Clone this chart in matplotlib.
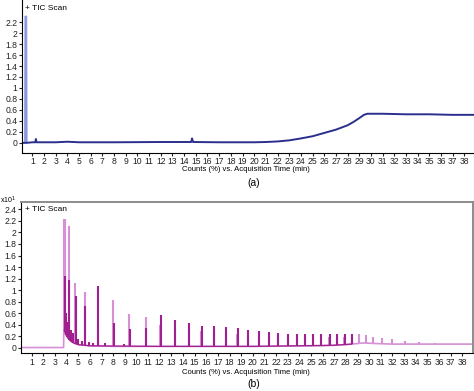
import matplotlib
matplotlib.use("Agg")
import matplotlib.pyplot as plt
import numpy as np

plt.rcParams['font.family'] = ['Liberation Sans', 'DejaVu Sans']

# ---- data: panel (a), blank run ----
spike_a_t = [0.33, 0.36, 0.52, 0.55]
spike_a_y = [0.0, 2.31, 2.31, 0.0]

trace_a_t = [0.12, 0.5, 1.0, 1.25, 1.3, 1.35, 2.0, 3.0, 3.5, 4.0, 4.5, 5.0, 8.0, 12.0,
             14.6, 14.68, 14.76, 17.0, 20.0, 21.0, 22.0, 23.0, 24.0, 25.0, 26.0,
             27.0, 28.0, 28.5, 29.0, 29.4, 29.7, 31.0, 33.0, 35.0, 37.0, 39.0]
trace_a_y = [0.0, 0.0, 0.01, 0.01, 0.07, 0.01, 0.01, 0.01, 0.015, 0.02, 0.015, 0.01, 0.01, 0.015,
             0.015, 0.08, 0.015, 0.01, 0.01, 0.015, 0.025, 0.045, 0.08, 0.12, 0.18,
             0.24, 0.32, 0.38, 0.45, 0.51, 0.53, 0.53, 0.52, 0.52, 0.51, 0.51]

# ---- data: panel (b), sample run ----
base_b_t = [0.08, 3.74, 3.76, 4.0, 4.3, 4.6, 5.0, 6.0, 8.0, 12.0, 20.0, 26.0, 27.0,
            28.0, 29.0, 29.5, 30.5, 32.0, 34.0, 36.0, 38.9]
base_b_y = [0.0, 0.0, 0.3, 0.2, 0.12, 0.08, 0.05, 0.03, 0.02, 0.02, 0.02, 0.03, 0.04,
            0.05, 0.07, 0.08, 0.07, 0.06, 0.06, 0.06, 0.06]

dark_base_t = [3.8, 4.0, 4.3, 4.6, 5.0, 6.0, 12.0, 20.0, 27.0, 28.5]
dark_base_y = [0.3, 0.2, 0.12, 0.08, 0.05, 0.03, 0.02, 0.02, 0.04, 0.06]

light_peak_t = [3.78, 3.84, 3.9, 4.22, 4.75, 5.55, 6.68, 8.0, 9.4, 10.78, 12.05, 13.28,
                14.48, 15.58, 16.68, 17.68, 18.65, 19.6, 20.5, 21.38, 22.2, 23.0,
                23.78, 24.5, 25.2, 25.9, 26.55, 27.2, 27.85, 28.5, 29.1, 29.7, 30.3,
                31.1, 32.0, 33.1, 34.3, 35.7, 37.5]
light_peak_h = [2.24, 2.24, 2.24, 2.11, 1.13, 0.97, 0.4, 0.83, 0.58, 0.53, 0.4, 0.35,
                0.3, 0.28, 0.27, 0.25, 0.24, 0.22, 0.2, 0.2, 0.19, 0.18,
                0.18, 0.17, 0.17, 0.18, 0.18, 0.18, 0.19, 0.2, 0.24, 0.22, 0.19,
                0.16, 0.14, 0.12, 0.10, 0.08, 0.07]

dark_peak_t = [3.82, 3.95, 4.05, 4.24, 4.4, 4.55, 4.79, 5.0, 5.3, 5.56, 5.9, 6.3, 6.73,
               7.3, 8.03, 8.9, 9.42, 10.82, 12.08, 13.3, 14.5, 15.6, 16.7, 17.7, 18.7,
               19.6, 20.5, 21.4, 22.2, 23.0, 23.8, 24.5, 25.2, 25.9, 26.6, 27.2, 27.9, 28.5]
dark_peak_h = [1.24, 0.6, 0.45, 1.18, 0.3, 0.25, 0.9, 0.15, 0.12, 0.73, 0.1, 0.08, 1.07,
               0.08, 0.42, 0.06, 0.33, 0.34, 0.56, 0.48, 0.42, 0.38, 0.38, 0.35, 0.34,
               0.30, 0.28, 0.27, 0.26, 0.24, 0.24, 0.23, 0.23, 0.24, 0.24, 0.24, 0.24, 0.24]

x_ticks = list(range(1, 39))
y_ticks_a = [0, 0.2, 0.4, 0.6, 0.8, 1, 1.2, 1.4, 1.6, 1.8, 2, 2.2]
y_ticks_b = [0, 0.2, 0.4, 0.6, 0.8, 1, 1.2, 1.4, 1.6, 1.8, 2, 2.2, 2.4]

xlabel = "Counts (%) vs. Acquisition Time (min)"

LIGHT_BLUE = '#8a98e2'
NAVY = '#2a2f8e'
PINK = '#d690d6'
PURPLE = '#a0208f'

W, H = 474, 391
fig = plt.figure(figsize=(W / 100, H / 100), dpi=100)


def px_axes(left, top, right, bottom):
    return fig.add_axes([left / W, 1 - bottom / H, (right - left) / W, (bottom - top) / H])


def style_axes(ax, yticks):
    ax.set_xticks(x_ticks)
    ax.set_xticklabels([str(t) for t in x_ticks])
    ax.set_yticks(yticks)
    ax.set_yticklabels([('%g' % v) for v in yticks])
    ax.tick_params(direction='out', length=2.5, width=0.8, pad=0.8, labelsize=6.2,
                   colors='#222222')
    ax.spines['left'].set_color('black')
    ax.spines['bottom'].set_color('black')


# panel (a)
ax1 = px_axes(22, -2, 476, 152.7)
ax1.fill(spike_a_t, spike_a_y, color=LIGHT_BLUE, lw=0.6)
ax1.plot(trace_a_t, trace_a_y, color=NAVY, lw=1.4)
ax1.set_xlim(0.11, 39.0)
ax1.set_ylim(-0.18, 2.64)
style_axes(ax1, y_ticks_a)
ax1.spines['top'].set_visible(False)
ax1.spines['right'].set_visible(False)
ax1.text(0.006, 0.93, "+ TIC Scan", transform=ax1.transAxes, fontsize=6.0,
         va='center', ha='left')

# panel (b)
ax2 = px_axes(21, 202, 472.7, 353.3)
light_base = np.interp(light_peak_t, base_b_t, base_b_y)
dark_base = np.interp(dark_peak_t, dark_base_t, dark_base_y)
ax2.plot(base_b_t, base_b_y, color=PINK, lw=1.2)
ax2.vlines(light_peak_t, light_base, light_peak_h, color=PINK, lw=1.5)
ax2.plot(dark_base_t, dark_base_y, color=PURPLE, lw=0.9)
ax2.vlines(dark_peak_t, dark_base, dark_peak_h, color=PURPLE, lw=1.5)
ax2.set_xlim(0.08, 38.9)
ax2.set_ylim(-0.10, 2.53)
style_axes(ax2, y_ticks_b)
for s in ['top', 'right']:
    ax2.spines[s].set_color('#8c8c8c')
    ax2.spines[s].set_linewidth(1.4)
ax2.text(0.008, 0.952, "+ TIC Scan", transform=ax2.transAxes, fontsize=6.0,
         va='center', ha='left')
fig.text(0.001, 1 - 200 / H, "x10$^{1}$", fontsize=5.0, va='center', ha='left')

# axis titles and captions
fig.text(0.519, 1 - 169.3 / H, xlabel, fontsize=5.5, ha='center', va='center')
fig.text(0.536, 1 - 183.3 / H, "(a)", fontsize=7.4, ha='center', va='center')
fig.text(0.519, 1 - 372.3 / H, xlabel, fontsize=5.5, ha='center', va='center')
fig.text(0.536, 1 - 383.7 / H, "(b)", fontsize=7.4, ha='center', va='center')

fig.savefig("out.png", dpi=100)
